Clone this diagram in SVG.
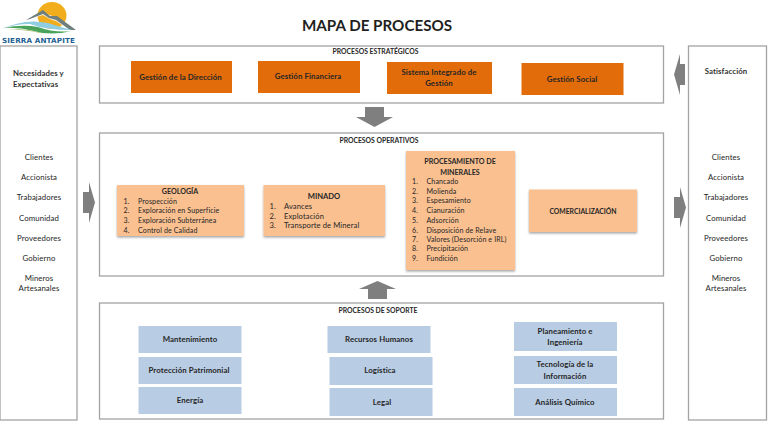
<svg xmlns="http://www.w3.org/2000/svg" width="768" height="433" viewBox="0 0 768 433">
<style>
text{font-family:Lato,"Liberation Sans",Arial,sans-serif;fill:#262626;font-size:7.8px;letter-spacing:.1px}
.c{text-anchor:middle}
.b{font-weight:700}
.h{font-weight:700;font-size:6.8px;text-anchor:middle;letter-spacing:0}
.frame{fill:#fff;stroke:#a3a3a3;stroke-width:1.3}
.or{fill:#e36c0a}
.pe{fill:#fac090;filter:url(#sh)}
.bl{fill:#b8cce4}
.big{fill:#7f7f7f}
.ln{fill:none;stroke:#bfbfbf;stroke-width:1}
.tl text{font-size:7.1px}
.tm text{font-size:7.6px}
</style>
<defs>
<filter id="sh" x="-10%" y="-10%" width="120%" height="120%"><feDropShadow dx="0" dy="1.500" stdDeviation="1" flood-color="#000" flood-opacity="0.35"/></filter>
<marker id="ah" markerWidth="7" markerHeight="8" refX="6" refY="4" orient="auto" markerUnits="userSpaceOnUse"><path d="M1 .5L6 4L1 7.500" fill="none" stroke="#bfbfbf" stroke-width="1"/></marker>
</defs>
<rect width="768" height="433" fill="#fff"/>
<g id="logo">
<ellipse cx="52" cy="15.500" rx="14.500" ry="13.500" fill="#f2ad1c"/>
<path d="M25 20L43 11L49 15L56 17L76 30L70 30L56 21L50 19L43 15Z" fill="#fff"/>
<path d="M26 20L43 10L50 16L57 16L76 30L70 30L56 20L49 18L43 14L30 19Z" fill="#6f7f7c"/>
<path d="M2 29Q25 18 48 23Q60 27 72 30Q45 30 30 24Q14 24 2 29Z" fill="#8fcde0"/>
<path d="M3 28Q22 24 38 27Q55 33 72 31Q50 36 34 31Q18 27 3 28Z" fill="#4aa35a"/>
<path d="M8 30Q24 28 38 32Q46 34 40 33Q22 29 8 30Z" fill="#9dbb6a"/>
<text x="2" y="43" class="b" textLength="73" lengthAdjust="spacingAndGlyphs" style="font-family:'DejaVu Sans',sans-serif;font-size:7px;fill:#1d5f94">SIERRA ANTAPITE</text>
</g>
<text x="377" y="31" class="c b" style="font-size:15.200px;fill:#1f1f1f;letter-spacing:0">MAPA DE PROCESOS</text>
<g id="connectors">
<path class="big" d="M365 107H384V117H393L374.500 127L356 117H365Z"/>
<path class="big" d="M368 299V289H359L377.500 281L396 289H387V299Z"/>
<path class="big" d="M83 192H89V182L95 202.500L89 223V213H83Z"/>
<path class="big" d="M674 197H680V187L686 207.500L680 228V218H674Z"/>
<path class="big" d="M685 64H680V54L674 74.500L680 95V85H685Z"/>
<path class="ln" marker-end="url(#ah)" d="M244 210.500H263"/>
<path class="ln" marker-end="url(#ah)" d="M385 210.500H406"/>
<path class="ln" marker-end="url(#ah)" d="M515 210.500H529"/>
</g>
<g id="necesidades"><rect class="frame" x="0" y="46" width="77" height="374"/>
<text x="13" y="76" class="b" style="fill:#333">Necesidades y</text><text x="13" y="87" class="b" style="fill:#333">Expectativas</text>
<g class="c"><text x="39" y="159.500">Clientes</text><text x="39" y="180">Accionista</text><text x="39" y="200">Trabajadores</text><text x="39" y="220.500">Comunidad</text><text x="39" y="240.500">Proveedores</text><text x="39" y="261">Gobierno</text><text x="39" y="281">Mineros</text><text x="39" y="291">Artesanales</text></g></g>
<g id="satisfaccion"><rect class="frame" x="688.500" y="46" width="78" height="374"/>
<text x="726" y="73.500" class="c b" style="fill:#333">Satisfacción</text>
<g class="c"><text x="726" y="159.500">Clientes</text><text x="726" y="180">Accionista</text><text x="726" y="200">Trabajadores</text><text x="726" y="220.500">Comunidad</text><text x="726" y="240.500">Proveedores</text><text x="726" y="261">Gobierno</text><text x="726" y="281">Mineros</text><text x="726" y="291">Artesanales</text></g></g>
<g id="estrategicos"><rect class="frame" x="99.500" y="46" width="564" height="57"/>
<text x="375.500" y="54" class="h">PROCESOS ESTRATÉGICOS</text></g>
<g id="n1"><rect class="or" x="131" y="61" width="101" height="32"/><text x="180.500" y="80" class="c b">Gestión de la Dirección</text></g>
<g id="n2"><rect class="or" x="258" y="61" width="102" height="32"/><text x="308" y="79" class="c b">Gestión Financiera</text></g>
<g id="n3"><rect class="or" x="387" y="62" width="105" height="32"/><text x="439" y="74.500" class="c b">Sistema Integrado de</text><text x="439" y="85.500" class="c b">Gestión</text></g>
<g id="n4"><rect class="or" x="521.500" y="63" width="102" height="32"/><text x="572" y="82" class="c b">Gestión Social</text></g>
<g id="operativos"><rect class="frame" x="99.500" y="133" width="564" height="143"/>
<text x="379" y="142.500" class="h">PROCESOS OPERATIVOS</text></g>
<g id="geologia" class="tl"><rect class="pe" x="117" y="185" width="127" height="51"/>
<text x="180" y="194" class="h">GEOLOGÍA</text>
<text x="123.500" y="203.500">1.</text><text x="138" y="203.500">Prospección</text><text x="123.500" y="213">2.</text><text x="138" y="213">Exploración en Superficie</text><text x="123.500" y="222.500">3.</text><text x="138" y="222.500">Exploración Subterránea</text><text x="123.500" y="232.500">4.</text><text x="138" y="232.500">Control de Calidad</text></g>
<g id="minado" class="tm"><rect class="pe" x="263.500" y="185" width="121.500" height="51"/>
<text x="324" y="199" class="h">MINADO</text>
<text x="269.500" y="208.500">1.</text><text x="284" y="208.500">Avances</text><text x="269.500" y="218.500">2.</text><text x="284" y="218.500">Explotación</text><text x="269.500" y="227.500">3.</text><text x="284" y="227.500">Transporte de Mineral</text></g>
<g id="procesamiento" class="tl"><rect class="pe" x="406" y="151" width="109" height="119"/>
<text x="460" y="164" class="h">PROCESAMIENTO DE</text><text x="460" y="175" class="h">MINERALES</text>
<text x="412" y="184">1.</text><text x="426.500" y="184">Chancado</text><text x="412" y="193.500">2.</text><text x="426.500" y="193.500">Molienda</text><text x="412" y="203">3.</text><text x="426.500" y="203">Espesamiento</text><text x="412" y="213">4.</text><text x="426.500" y="213">Cianuración</text><text x="412" y="222.500">5.</text><text x="426.500" y="222.500">Adsorción</text><text x="412" y="232.500">6.</text><text x="426.500" y="232.500">Disposición de Relave</text><text x="412" y="242">7.</text><text x="426.500" y="242">Valores (Desorción e IRL)</text><text x="412" y="251">8.</text><text x="426.500" y="251">Precipitación</text><text x="412" y="261">9.</text><text x="426.500" y="261">Fundición</text></g>
<g id="comercializacion"><rect class="pe" x="529" y="189.500" width="108" height="42.500"/>
<text x="583" y="213.500" class="h">COMERCIALIZACIÓN</text></g>
<g id="soporte"><rect class="frame" x="99.500" y="303" width="564" height="116"/>
<text x="378" y="313" class="h">PROCESOS DE SOPORTE</text></g>
<g id="s1"><rect class="bl" x="138.500" y="326" width="103" height="27"/><text x="190" y="342" class="c b">Mantenimiento</text></g>
<g id="s2"><rect class="bl" x="138.500" y="357" width="103" height="27"/><text x="189" y="373" class="c b">Protección Patrimonial</text></g>
<g id="s3"><rect class="bl" x="138.500" y="387" width="103" height="27"/><text x="190" y="403" class="c b">Energía</text></g>
<g id="s4"><rect class="bl" x="327.500" y="326" width="103" height="27"/><text x="379" y="342" class="c b">Recursos Humanos</text></g>
<g id="s5"><rect class="bl" x="329.500" y="357" width="103" height="28"/><text x="380" y="373" class="c b">Logística</text></g>
<g id="s6"><rect class="bl" x="329.500" y="388" width="103" height="28"/><text x="382" y="405" class="c b">Legal</text></g>
<g id="s7"><rect class="bl" x="514" y="322" width="103" height="29"/><text x="565" y="334" class="c b">Planeamiento e</text><text x="565" y="345" class="c b">Ingeniería</text></g>
<g id="s8"><rect class="bl" x="514" y="356" width="103" height="28"/><text x="565" y="367" class="c b">Tecnología de la</text><text x="565" y="379" class="c b">Información</text></g>
<g id="s9"><rect class="bl" x="514" y="388" width="103" height="28"/><text x="565" y="405" class="c b">Análisis Químico</text></g>
</svg>
